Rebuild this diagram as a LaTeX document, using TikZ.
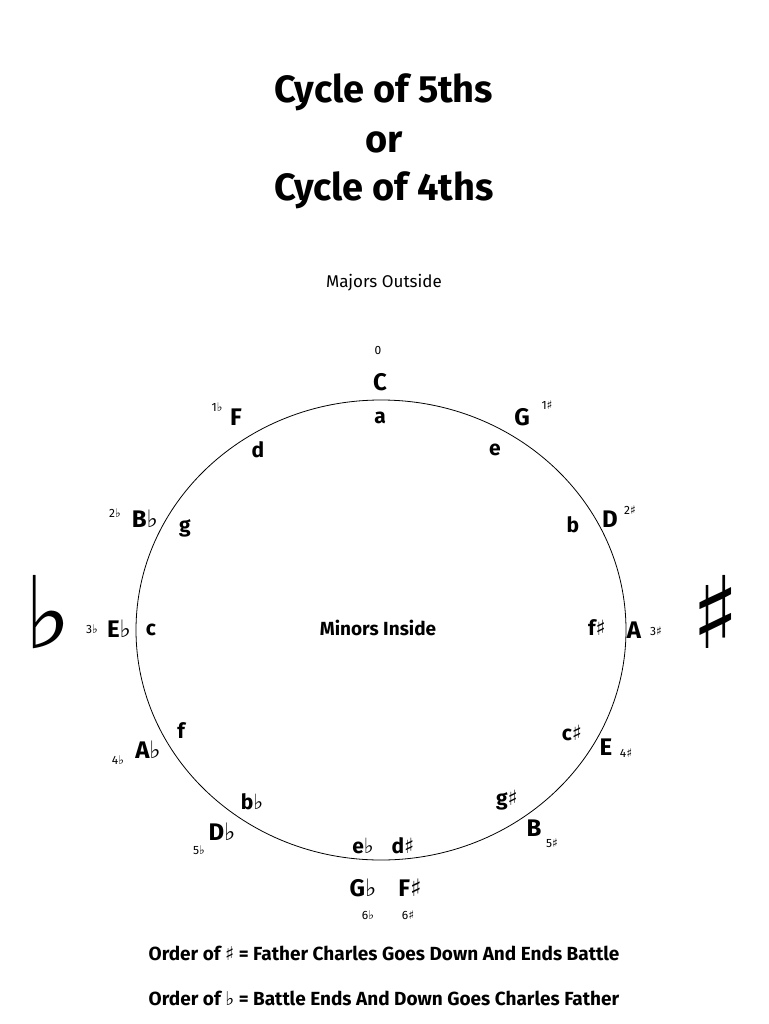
\documentclass[tikz,border=0pt]{standalone}
\usepackage{fontspec}
\setmainfont{Fira Sans}
\newfontfamily\symfont{DejaVu Sans}
\newcommand{\fl}{{\symfont ♭}}
\newcommand{\sh}{{\symfont ♯}}
\tikzset{
  major/.style={font=\fontsize{24}{26}\selectfont\bfseries},
  minor/.style={font=\fontsize{21}{23}\selectfont\bfseries},
  count/.style={font=\fontsize{12}{13}\selectfont},
  caption/.style={font=\fontsize{19}{22}\selectfont\bfseries}
}
\begin{document}
\begin{tikzpicture}[x=1pt,y=-1pt]
        \useasboundingbox (0,0) rectangle (768,1024);
        % title
        \node[font=\fontsize{38}{40}\selectfont\bfseries] (t1) at (384,92) {Cycle of 5ths};
        \node[font=\fontsize{38}{40}\selectfont\bfseries] (t2) at (384,142) {or};
        \node[font=\fontsize{38}{40}\selectfont\bfseries] (t3) at (384,190) {Cycle of 4ths};
        \node[caption,font=\fontsize{17}{20}\selectfont] (out) at (384,283) {Majors Outside};
        \node[caption] (in) at (378,628) {Minors Inside};

        \draw[thick] (381,630) ellipse (245 and 230);

        \begin{scope}[every node/.style={major}]
            \node (C) at (380,382) {C};
            \node (F) at (236,417) {F};
            \node (G) at (522,417) {G};
            \node (Bb) at (145,519) {B\fl};
            \node (D) at (610,519) {D};
            \node (Eb) at (119,629) {E\fl};
            \node (A) at (634,630) {A};
            \node (Ab) at (148,750) {A\fl};
            \node (E) at (606,747) {E};
            \node (Db) at (222,832) {D\fl};
            \node (B) at (534,828) {B};
            \node (Gb) at (363,888) {G\fl};
            \node (Fs) at (410,888) {F\sh};
        \end{scope}
        \begin{scope}[every node/.style={count}]
            \node (nC) at (378,350) {0};
            \node (nF) at (217,407) {1\fl};
            \node (nG) at (547,405) {1\sh};
            \node (nBb) at (115,513) {2\fl};
            \node (nD) at (630,510) {2\sh};
            \node (nEb) at (92,629) {3\fl};
            \node (nA) at (656,631) {3\sh};
            \node (nAb) at (118,760) {4\fl};
            \node (nE) at (626,753) {4\sh};
            \node (nDb) at (199,850) {5\fl};
            \node (nB) at (552,843) {5\sh};
            \node (nGb) at (368,915) {6\fl};
            \node (nFs) at (408,915) {6\sh};
        \end{scope}
        \begin{scope}[every node/.style={minor}]
            \node (a) at (380,418) {a};
            \node (d) at (258,450) {d};
            \node (e) at (495,450) {e};
            \node (g) at (185,528) {g};
            \node (b) at (573,525) {b};
            \node (c) at (151,630) {c};
            \node (fs) at (597,628) {f\sh};
            \node (f) at (181,731) {f};
            \node (cs) at (572,733) {c\sh};
            \node (bb) at (252,802) {b\fl};
            \node (gs) at (507,800) {g\sh};
            \node (eb) at (363,846) {e\fl};
            \node (ds) at (403,846) {d\sh};
        \end{scope}

        \node[font=\fontsize{100}{100}\selectfont] (flat) at (48,612) {\fl};
        \node[font=\fontsize{100}{100}\selectfont] (sharp) at (716,612) {\sh};

        \node[caption] (ord1) at (384,953) {Order of \sh\ = Father Charles Goes Down And Ends Battle};
        \node[caption] (ord2) at (384,998) {Order of \fl\ = Battle Ends And Down Goes Charles Father};
\end{tikzpicture}
\end{document}
